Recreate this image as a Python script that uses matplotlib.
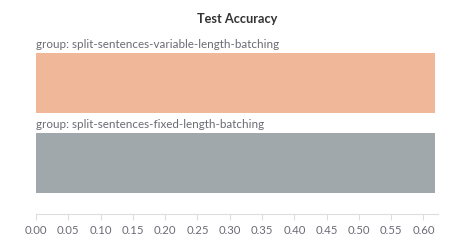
import matplotlib
matplotlib.use("Agg")
import matplotlib.pyplot as plt

groups = ["group: split-sentences-variable-length-batching",
          "group: split-sentences-fixed-length-batching"]
values = [0.618, 0.618]
colors = ["#F0B899", "#A0A8AB"]
xticks = [0.00, 0.05, 0.10, 0.15, 0.20, 0.25, 0.30, 0.35, 0.40, 0.45, 0.50, 0.55, 0.60]

plt.rcParams['font.family'] = ['Lato', 'DejaVu Sans']

fig = plt.figure(figsize=(4.74, 2.49), dpi=100)
ax = fig.add_axes([36/474, 1-214/249, (437.7-36)/474, 169/249])

pos = list(range(len(groups)))
h = 0.75
ax.barh(pos, values, height=h, color=colors)
for p, g in zip(pos, groups):
    ax.annotate(g, xy=(0, p - h/2), xytext=(0, 2.5), textcoords='offset points',
                ha='left', va='bottom', fontsize=8.4, color='#6b6b76',
                annotation_clip=False)

ax.set_xlim(0, 0.622)
ax.set_ylim(1 + 0.6375, -0.475)
ax.set_yticks([])
ax.set_xticks(xticks)
ax.set_xticklabels([f"{t:.2f}" for t in xticks])
for s in ['top', 'right', 'left']:
    ax.spines[s].set_visible(False)
ax.spines['bottom'].set_color('#dddddd')
ax.tick_params(axis='x', colors='#dddddd', length=4, labelsize=8.2,
               labelcolor='#6b6b76', pad=4)

fig.text(237/474, 1-19/249, "Test Accuracy", ha='center', va='center',
         fontsize=9.2, fontweight='bold', color='#333333')

fig.savefig("out.png", dpi=100)
